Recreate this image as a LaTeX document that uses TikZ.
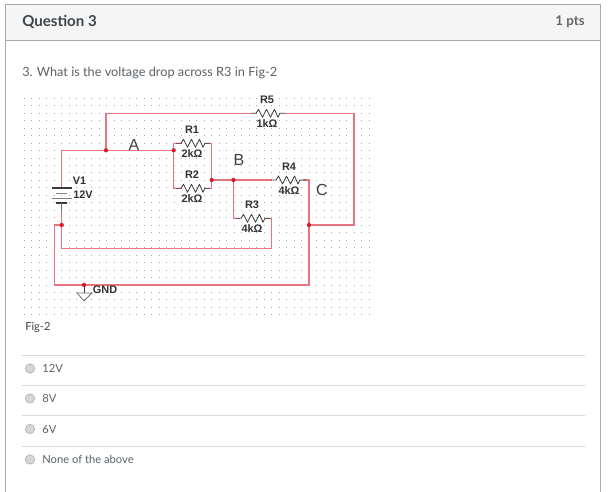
\documentclass[tikz,border=0pt]{standalone}
\usepackage{fontspec}
\setmainfont{Lato}
\newfontfamily\cirfont{Liberation Sans}
\definecolor{wire}{HTML}{E9747E}
\definecolor{junc}{HTML}{D9182B}
\definecolor{frameg}{HTML}{A9A9A9}
\definecolor{headg}{HTML}{F5F5F5}
\definecolor{rule}{HTML}{D9D9D9}
\definecolor{txt}{HTML}{3D454C}
\definecolor{bodyt}{HTML}{5A6268}
\definecolor{part}{HTML}{3A3A3A}
\tikzset{
  x=0.75pt,y=-0.75pt,
  wirel/.style={draw=wire,line width=1pt,line join=miter},
  partl/.style={draw=part,line width=0.6pt},
  jdot/.style={circle,fill=junc,inner sep=0pt,minimum size=3.2pt},
  clabel/.style={font=\cirfont\bfseries\fontsize{8.2pt}{10pt}\selectfont,text=black!80,inner sep=0pt},
  letter/.style={font=\cirfont\fontsize{12pt}{14pt}\selectfont,text=black!75,inner sep=0pt},
  radio/.style={circle,draw=black!30,fill=black!16,line width=0.5pt,inner sep=0pt,minimum size=7pt},
  optt/.style={font=\fontsize{8.4pt}{11pt}\selectfont,text=bodyt,anchor=base west,inner sep=0pt},
  sepl/.style={draw=rule,line width=0.6pt},
  pics/zig/.style={code={
    \draw[partl,line join=round] (-17,0) -- (-12,0) -- (-9.5,-4) -- (-5.5,4) -- (-1.5,-4) -- (2.5,4) -- (6.5,-4) -- (10,4) -- (12,0) -- (17,0);
  }}
}
\begin{document}
\begin{tikzpicture}
\useasboundingbox (0,0) rectangle (608,492);
\fill[white] (0,0) rectangle (608,492);
% page frame
\fill[headg] (5.5,4.5) rectangle (600.5,40.5);
\draw[frameg,line width=0.7pt] (5.5,492) -- (5.5,4.5) -- (600.5,4.5) -- (600.5,492);
\draw[frameg,line width=0.7pt] (5.5,40.5) -- (600.5,40.5);
\node[font=\bfseries\fontsize{11.3pt}{14pt}\selectfont,text=txt,anchor=base west,inner sep=0pt] (qtitle) at (22,27) {Question 3};
\node[font=\bfseries\fontsize{10pt}{13pt}\selectfont,text=black!60,anchor=base east,inner sep=0pt] (pts) at (585,26) {1 pts};
\node[font=\fontsize{9.55pt}{12pt}\selectfont,text=bodyt,anchor=base west,inner sep=0pt] (qtext) at (22,77) {3. What is the voltage drop across R3 in Fig-2};
% grid of dots
\foreach \i in {0,...,46}{
  \foreach \j in {0,...,29}{
    \fill[black!35] ({24+7.5*\i-0.5},{98.3+7.47*\j-0.5}) rectangle ++(1,1);
  }
}
% wire coordinates
\coordinate (a1) at (61.7,150.3);
\coordinate (ja) at (106,150.3);
\coordinate (topl) at (106,113.3);
\coordinate (r5l) at (251,113.3);
\coordinate (r5r) at (285,113.3);
\coordinate (topr) at (354,113.3);
\coordinate (crn) at (354,225);
\coordinate (jc) at (309,225);
\coordinate (jp) at (173.7,150.3);
\coordinate (r1l) at (173.7,143.3);
\coordinate (r1lb) at (182,143.3);
\coordinate (r1rb) at (204,143.3);
\coordinate (r1r) at (211.7,143.3);
\coordinate (r2l) at (173.7,188.3);
\coordinate (r2lb) at (182,188.3);
\coordinate (r2rb) at (204,188.3);
\coordinate (r2r) at (211.7,188.3);
\coordinate (jb) at (211.7,180);
\coordinate (jd) at (233.5,180);
\coordinate (r4l) at (272,180);
\coordinate (r4r) at (303,180);
\coordinate (r4c) at (309,180);
\coordinate (r3t) at (233.5,218.3);
\coordinate (r3l) at (240,218.3);
\coordinate (r3r) at (265,218.3);
\coordinate (r3c) at (271.7,218.3);
\coordinate (r3b) at (271.7,248.3);
\coordinate (botw) at (61.7,248.3);
\coordinate (je) at (61.7,225);
\coordinate (fl) at (54.7,225);
\coordinate (flb) at (54.7,285);
\coordinate (jg) at (84,285);
\coordinate (blb) at (309,285);
\coordinate (battop) at (61.7,188);
\coordinate (batbot) at (61.7,203);
\coordinate (batw) at (61.7,212);
% wires
\draw[wirel] (battop) -- (a1) -- (ja) -- (jp) -- (r2l) -- (r2lb);
\draw[wirel] (jp) -- (r1l) -- (r1lb);
\draw[wirel] (ja) -- (topl) -- (r5l);
\draw[wirel] (r5r) -- (topr) -- (crn) -- (jc);
\draw[wirel] (r1rb) -- (r1r) -- (r2r) -- (r2rb);
\draw[wirel] (jb) -- (jd) -- (r4l);
\draw[wirel] (r4r) -- (r4c) -- (blb) -- (flb) -- (fl) -- (je);
\draw[wirel] (jd) -- (r3t) -- (r3l);
\draw[wirel] (r3r) -- (r3c) -- (r3b) -- (botw) -- (batw);
% resistors
\pic at (193,143.3) {zig};
\pic at (193,188.3) {zig};
\pic at (268,113.3) {zig};
\pic at (288,180) {zig};
\pic at (253,218.3) {zig};
% battery
\draw[partl,line width=0.8pt] (52,188) -- (72,188);
\draw[partl,black!50] (56,193) -- (67,193);
\draw[partl,black!50] (52,198) -- (72,198);
\draw[partl,line width=0.8pt] (56,203) -- (67,203);
\draw[partl,black!55,line width=1pt] (batbot) -- (batw);
% ground
\coordinate (gs) at (84,293);
\draw[partl] (jg) -- (gs);
\draw[partl,black!55] (77,293) -- (92,293) -- (84,301) -- cycle;
% junctions
\foreach \p in {ja,jp,jb,jd,jc,je,jg}{ \node[jdot] at (\p) {}; }
% labels
\node[clabel] (lr5) at (267,100) {R5};
\node[clabel] (lr5v) at (267,124) {1kΩ};
\node[clabel] (lr1) at (192,130) {R1};
\node[clabel] (lr1v) at (192,154) {2kΩ};
\node[clabel] (lr2) at (192,175) {R2};
\node[clabel] (lr2v) at (192,199) {2kΩ};
\node[clabel] (lr4) at (289,167) {R4};
\node[clabel] (lr4v) at (289,191) {4kΩ};
\node[clabel] (lr3) at (252,205) {R3};
\node[clabel] (lr3v) at (252,229) {4kΩ};
\node[clabel] (lv1) at (79.5,181) {V1};
\node[clabel] (lv1v) at (83,195) {12V};
\node[clabel] (lgnd) at (105,290) {GND};
\node[letter] (la) at (134,145) {A};
\node[letter] (lb) at (239,160) {B};
\node[letter] (lc) at (322,190) {C};
% lower text
\node[font=\fontsize{8.3pt}{12pt}\selectfont,text=txt,anchor=base west,inner sep=0pt] (fig) at (25,330) {Fig-2};
\draw[sepl] (22,355.5) -- (585,355.5);
\draw[sepl] (22,385.5) -- (585,385.5);
\draw[sepl] (22,415.5) -- (585,415.5);
\draw[sepl] (22,446.5) -- (585,446.5);
\node[radio] (o1) at (30,368.5) {};
\node[radio] (o2) at (30,398.5) {};
\node[radio] (o3) at (30,429) {};
\node[radio] (o4) at (30,459.5) {};
\node[optt] (t1) at (42,372) {12V};
\node[optt] (t2) at (42,402) {8V};
\node[optt] (t3) at (42,433) {6V};
\node[optt] (t4) at (42,463) {None of the above};
\end{tikzpicture}
\end{document}
